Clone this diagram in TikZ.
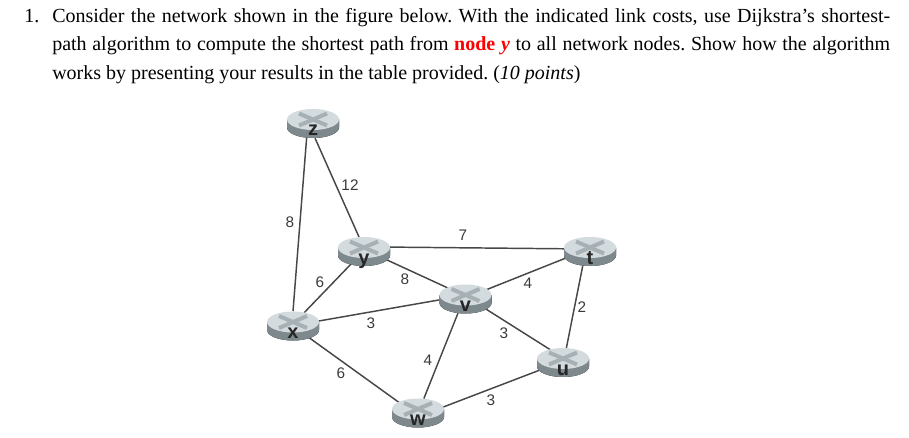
\documentclass[tikz,border=0pt]{standalone}
\usepackage{fontspec}
\setmainfont{Liberation Serif}
\setsansfont{Liberation Sans}
\usetikzlibrary{backgrounds,calc,shapes.geometric}
\definecolor{routertop}{HTML}{D3DBDF}
\definecolor{routercross}{HTML}{A6B0B5}
\definecolor{routerdark}{HTML}{7E898E}
\definecolor{routerlight}{HTML}{E8ECEE}
\definecolor{costgray}{HTML}{3A3A3A}
\tikzset{
	question/.style={anchor=base west, inner sep=0pt, font=\fontsize{15}{16}\selectfont},
	routerbox/.style={ellipse, minimum width=39pt, minimum height=21.75pt, inner sep=0pt},
	routertag/.style={anchor=base, inner sep=0pt, font=\sffamily\bfseries\fontsize{15}{16}\selectfont, text=black!85},
	cost/.style={inner sep=0pt, font=\sffamily\fontsize{11.5}{12}\selectfont, text=costgray},
	link/.style={line width=1.1pt, color=black!72}
}
\def\router(#1:#2,#3){
	\node[routerbox] (#1) at (#2, #3) {};
	\begin{scope}[shift={(#2, #3)}]
		\fill[left color=routerdark, middle color=routerlight, right color=routerdark] (-26, -4) -- (-26, 4) arc[start angle=180, end angle=0, x radius=26, y radius=10.5] -- (26, -4) -- cycle;
		\fill[routertop] (0, -4) ellipse [x radius=26, y radius=10.5];
		\draw[line width=3pt, color=routercross] (-14, -10) -- (14, 2);
		\draw[line width=3pt, color=routercross] (-14, 2) -- (14, -10);
		\node[routertag] (#1tag) at (0, 12.5) {#1};
	\end{scope}
}
\begin{document}
\frenchspacing
\begin{tikzpicture}[x=0.75pt, y=-0.75pt]
	\useasboundingbox (0, 0) rectangle (909, 438);
	
	%%%%% QUESTION %%%%%
	\node[question] (num) at (24, 22.5) {1.};
	\node[question] (lineone) at (52, 22.5) {\hbox to 628.5pt{Consider the network shown in the figure below. With the indicated link costs, use Dijkstra’s shortest-}};
	\node[question] (linetwo) at (52, 51) {\hbox to 628.5pt{path algorithm to compute the shortest path from \textcolor{red}{\textbf{node \textit{y}}} to all network nodes. Show how the algorithm}};
	\node[question] (linethree) at (52, 79.5) {works by presenting your results in the table provided. (\textit{10 points})};
	
	%%%%% ROUTERS %%%%%
	\router(z:313,123.5)
	\router(x:293,326)
	\router(y:364,251.5)
	\router(v:465.5,299)
	\router(t:590,251.5)
	\router(u:563,362.5)
	\router(w:418,413)
	
	%%%%% LINKS %%%%%
	\begin{scope}[on background layer]
		\draw[link] (z.246) -- (x.90);
		\draw[link] (z.278) -- (y.109);
		\draw[link] (y.10) -- (t.174);
		\draw[link] (y.340) -- (v.148);
		\draw[link] (y.224) -- (x.50);
		\draw[link] (x.11) -- (v.182);
		\draw[link] (x.324) -- (w.151);
		\draw[link] (v.242) -- (w.68);
		\draw[link] (v.24) -- (t.195);
		\draw[link] (v.334) -- (u.135);
		\draw[link] (t.243) -- (u.77);
		\draw[link] (w.13) -- (u.198);
	\end{scope}
	
	%%%%% COSTS %%%%%
	\node[cost] (czx) at (290, 222) {8};
	\node[cost] (czy) at (350, 185) {12};
	\node[cost] (cxy) at (320, 282) {6};
	\node[cost] (cyv) at (405, 279) {8};
	\node[cost] (cxv) at (371, 323) {3};
	\node[cost] (cyt) at (463, 235) {7};
	\node[cost] (cvt) at (528, 283) {4};
	\node[cost] (ctu) at (582, 307) {2};
	\node[cost] (cvu) at (504, 333) {3};
	\node[cost] (cvw) at (428, 360) {4};
	\node[cost] (cxw) at (341, 373) {6};
	\node[cost] (cwu) at (491, 400) {3};
\end{tikzpicture}
\end{document}
